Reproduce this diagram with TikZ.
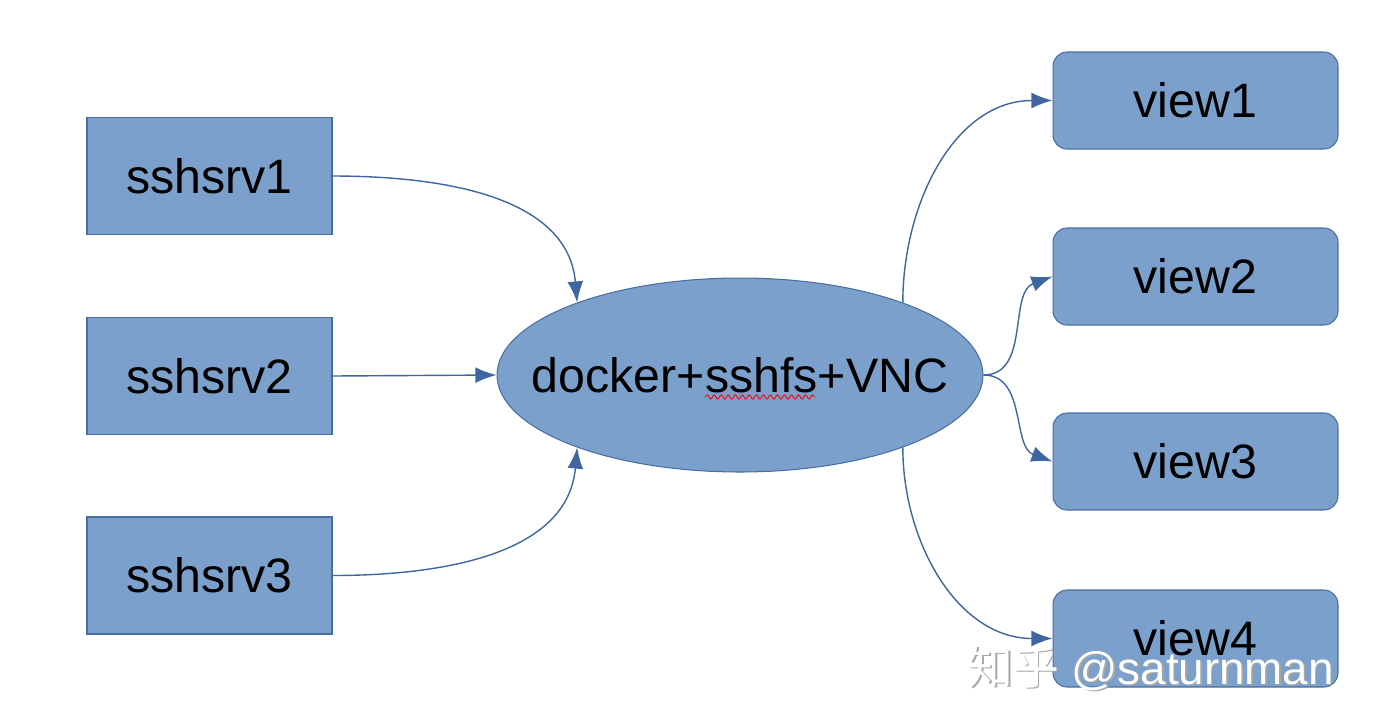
\documentclass[tikz,border=0pt]{standalone}
\usepackage{fontspec}
\setmainfont{Liberation Sans}
\newfontfamily\cjk{Noto Sans CJK SC}
\usetikzlibrary{shapes.geometric,arrows.meta,decorations.pathmorphing}
\definecolor{bfill}{HTML}{7BA0CC}
\definecolor{bline}{HTML}{4A6F9F}
\definecolor{aline}{HTML}{3F66A0}
\begin{document}
\begin{tikzpicture}[x=0.02cm,y=-0.02cm,
  box/.style={draw=bline,fill=bfill,line width=0.6pt,inner sep=0pt,font=\fontsize{27.5}{32}\selectfont},
  sq/.style={box,minimum width=4.9cm,minimum height=2.34cm},
  rd/.style={box,rounded corners=8pt,minimum width=5.7cm,minimum height=1.94cm},
  arr/.style={draw=aline,line width=0.8pt,-{Latex[length=12pt,width=9pt]}},
  wmk/.style={font=\fontsize{26}{30}\selectfont,anchor=east}]
\useasboundingbox (0,0) rectangle (1374,725);
\node[sq] (s1) at (209.5,176) {sshsrv1};
\node[sq] (s2) at (209.5,376) {sshsrv2};
\node[sq] (s3) at (209.5,575.5) {sshsrv3};
\node[ellipse,draw=bline,fill=bfill,line width=0.6pt,minimum width=9.72cm,minimum height=3.88cm,inner sep=0pt] (e) at (740,375) {};
\node[font=\fontsize{27.5}{32}\selectfont] (et) at (e.center) {docker+sshfs+VNC};
\node[rd] (v1) at (1195.5,100.5) {view1};
\node[rd] (v2) at (1195.5,276.5) {view2};
\node[rd] (v3) at (1195.5,461.5) {view3};
\node[rd] (v4) at (1195.5,638.5) {view4};
\draw[red,line width=0.5pt,decorate,decoration={snake,amplitude=1.2pt,segment length=4pt}] (705,397) -- (815,397);
\draw[arr] (s1.east) to[out=0,in=95] (e.156);
\draw[arr] (s2.east) -- (e.west);
\draw[arr] (s3.east) to[out=0,in=-95] (e.204);
\draw[arr] (e.24) to[out=90,in=180] (v1.west);
\draw[arr] (e.east) to[out=0,in=200] (v2.west);
\draw[arr] (e.east) to[out=0,in=160] (v3.west);
\draw[arr] (e.-24) to[out=-90,in=180] (v4.west);
\node[wmk,text=black!35] (wms) at (1341.5,669.5) {{\cjk 知乎} @saturnman};
\node[wmk,text=white] (wm) at (1340,668) {{\cjk 知乎} @saturnman};
\end{tikzpicture}
\end{document}
